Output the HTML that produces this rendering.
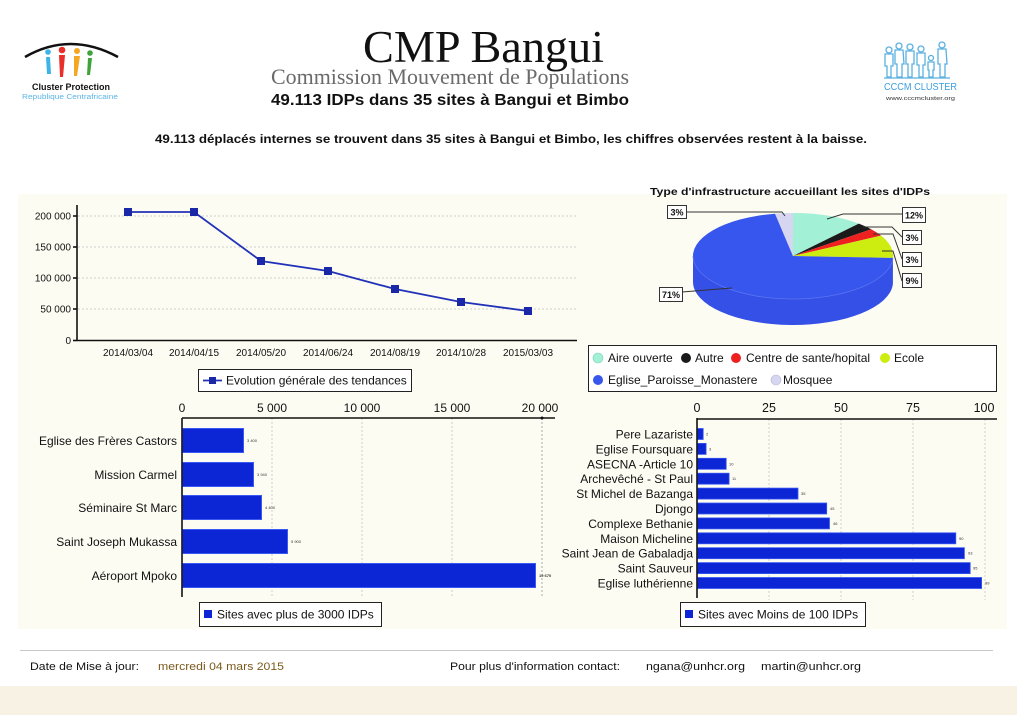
<!DOCTYPE html>
<html>
<head>
<meta charset="utf-8">
<style>
html,body{margin:0;padding:0;background:#fff;}
body{width:1024px;height:724px;overflow:hidden;}
svg{display:block;}
text{font-family:"Liberation Sans",Arial,sans-serif;}
.serif{font-family:"Liberation Serif","Times New Roman",serif;}
</style>
</head>
<body>
<svg width="1024" height="724" viewBox="0 0 1024 724" xmlns="http://www.w3.org/2000/svg">
  <rect width="1024" height="724" fill="#ffffff"/>

  <!-- ===== Header ===== -->
  <!-- left logo -->
  <path d="M25,57 Q70,31 118,57" fill="none" stroke="#111" stroke-width="2.6"/>
  <g>
    <circle cx="48" cy="52" r="2.8" fill="#3cb4e6"/>
    <path d="M46,57 L50,57 L51,74 L47,74 Z" fill="#3cb4e6"/>
    <circle cx="62" cy="50" r="3.3" fill="#e8302a"/>
    <path d="M59,55 L65,55 L63,77 L60,77 Z" fill="#e8302a"/>
    <circle cx="77" cy="51" r="3" fill="#f5a623"/>
    <path d="M74,56 L80,56 L77,76 L74,76 Z" fill="#f5a623"/>
    <circle cx="90" cy="53" r="2.8" fill="#3fa33c"/>
    <path d="M88,58 L92,58 L90,75 L87,75 Z" fill="#3fa33c"/>
  </g>
  <text x="32" y="90" font-size="9.5" font-weight="bold" fill="#111" textLength="78" lengthAdjust="spacingAndGlyphs">Cluster Protection</text>
  <text x="22" y="99" font-size="7" fill="#5ab4e8" textLength="96" lengthAdjust="spacingAndGlyphs">Republique Centrafricaine</text>

  <!-- right logo -->
  <g fill="none" stroke="#5ab0e0" stroke-width="1.3">
    <circle cx="889" cy="50" r="3"/>
    <path d="M885,54 L893,54 L893,66 L891,66 L891,77 L887,77 L887,66 L885,66 Z"/>
    <circle cx="899" cy="46" r="3"/>
    <path d="M895,50 L903,50 L904,64 L902,64 L902,77 L897,77 L897,64 L895,64 Z"/>
    <circle cx="910" cy="47" r="3"/>
    <path d="M906,51 L914,51 L914,64 L912,64 L912,77 L908,77 L908,64 L906,64 Z"/>
    <circle cx="921" cy="49" r="3"/>
    <path d="M917,53 L925,53 L925,65 L923,65 L923,77 L919,77 L919,65 L917,65 Z"/>
    <circle cx="931" cy="58" r="2.5"/>
    <path d="M928,62 L934,62 L934,70 L933,70 L933,77 L929,77 L929,70 L928,70 Z"/>
    <circle cx="942" cy="45" r="3"/>
    <path d="M938,49 L946,49 L947,64 L945,64 L945,77 L940,77 L940,64 L938,64 Z"/>
    <path d="M884,78 L950,78"/>
  </g>
  <text x="884" y="90" font-size="10" fill="#3a9ee0" textLength="73" lengthAdjust="spacingAndGlyphs">CCCM CLUSTER</text>
  <text x="886" y="100" font-size="5.5" fill="#333" textLength="69" lengthAdjust="spacingAndGlyphs">www.cccmcluster.org</text>

  <!-- titles -->
  <text class="serif" x="363" y="62" font-size="45" fill="#111" textLength="241" lengthAdjust="spacingAndGlyphs">CMP Bangui</text>
  <text class="serif" x="271" y="84" font-size="22" fill="#6a6a6a" textLength="358" lengthAdjust="spacingAndGlyphs">Commission Mouvement de Populations</text>
  <text x="271" y="105" font-size="16" font-weight="bold" fill="#111" textLength="358" lengthAdjust="spacingAndGlyphs">49.113 IDPs dans 35 sites à Bangui et Bimbo</text>
  <text x="155" y="143" font-size="11.5" font-weight="bold" fill="#111" textLength="712" lengthAdjust="spacingAndGlyphs">49.113 déplacés internes se trouvent dans 35 sites à Bangui et Bimbo, les chiffres  observées restent à la baisse.</text>

  <!-- cream panel -->
  <rect x="18" y="194" width="989" height="435" fill="#fdfcf3"/>

  <!-- ===== Line chart ===== -->
  <g stroke="#cfcfcf" stroke-width="1" stroke-dasharray="2,2">
    <line x1="78" y1="216" x2="576" y2="216"/>
    <line x1="78" y1="247" x2="576" y2="247"/>
    <line x1="78" y1="278" x2="576" y2="278"/>
    <line x1="78" y1="309" x2="576" y2="309"/>
  </g>
  <g stroke="#111" stroke-width="1.6">
    <line x1="77" y1="205" x2="77" y2="341"/>
    <line x1="77" y1="340.5" x2="577" y2="340.5"/>
    <line x1="73" y1="216" x2="77" y2="216"/>
    <line x1="73" y1="247" x2="77" y2="247"/>
    <line x1="73" y1="278" x2="77" y2="278"/>
    <line x1="73" y1="309" x2="77" y2="309"/>
    <line x1="73" y1="340.5" x2="77" y2="340.5"/>
  </g>
  <g font-size="10" fill="#111" text-anchor="end">
    <text x="71" y="219.5">200 000</text>
    <text x="71" y="250.5">150 000</text>
    <text x="71" y="281.5">100 000</text>
    <text x="71" y="312.5">50 000</text>
    <text x="71" y="344">0</text>
  </g>
  <g font-size="10" fill="#111" text-anchor="middle">
    <text x="128" y="356">2014/03/04</text>
    <text x="194" y="356">2014/04/15</text>
    <text x="261" y="356">2014/05/20</text>
    <text x="328" y="356">2014/06/24</text>
    <text x="395" y="356">2014/08/19</text>
    <text x="461" y="356">2014/10/28</text>
    <text x="528" y="356">2015/03/03</text>
  </g>
  <polyline points="128,212 194,212 261,261 328,271 395,289 461,302 528,311" fill="none" stroke="#2232b8" stroke-width="1.8"/>
  <g fill="#1a28a8">
    <rect x="124" y="208" width="8" height="8"/>
    <rect x="190" y="208" width="8" height="8"/>
    <rect x="257" y="257" width="8" height="8"/>
    <rect x="324" y="267" width="8" height="8"/>
    <rect x="391" y="285" width="8" height="8"/>
    <rect x="457" y="298" width="8" height="8"/>
    <rect x="524" y="307" width="8" height="8"/>
  </g>
  <rect x="198.5" y="369.5" width="213" height="22" fill="#fff" stroke="#222" stroke-width="1"/>
  <line x1="203" y1="380.5" x2="222" y2="380.5" stroke="#2232b8" stroke-width="1.8"/>
  <rect x="209" y="377" width="7" height="7" fill="#1a28a8"/>
  <text x="226" y="384.5" font-size="12" fill="#111">Evolution générale des tendances</text>

  <!-- ===== Pie chart ===== -->
  <text x="790" y="195" font-size="10.5" font-weight="bold" fill="#111" text-anchor="middle" textLength="280" lengthAdjust="spacingAndGlyphs">Type d'infrastructure accueillant les sites d'IDPs</text>
  <!-- sides -->
  <path d="M893,256 A100,43 0 0 1 892.9,257.9 L892.9,283.9 A100,43 0 0 0 893,282 Z" fill="#b8d000"/>
  <path d="M892.9,257.9 A100,43 0 0 1 693,256 L693,282 A100,43 0 0 0 892.9,283.9 Z" fill="#3450e6"/>
  <!-- tops -->
  <path d="M793,256 L793,213 A100,43 0 0 1 858.8,223.6 Z" fill="#a2f0d6"/>
  <path d="M793,256 L858.8,223.6 A100,43 0 0 1 871.2,229.2 Z" fill="#1a1a1a"/>
  <path d="M793,256 L871.2,229.2 A100,43 0 0 1 881.1,235.6 Z" fill="#ee2020"/>
  <path d="M793,256 L881.1,235.6 A100,43 0 0 1 892.9,257.9 Z" fill="#cdec10"/>
  <path d="M793,256 L892.9,257.9 A100,43 0 1 1 775.1,213.7 Z" fill="#3756ee"/>
  <path d="M793,256 L775.1,213.7 A100,43 0 0 1 793,213 Z" fill="#d6d6f0"/>
  <path d="M892.9,257.9 A100,43 0 0 1 693,256" fill="none" stroke="#5a74f0" stroke-width="0.8"/>
  <!-- leaders -->
  <g fill="none" stroke="#333" stroke-width="1">
    <polyline points="686,212 782,212 785,216"/>
    <polyline points="827,219 843,214 902,214"/>
    <polyline points="863,227 892,227 902,237"/>
    <polyline points="873,234 893,234 902,259"/>
    <polyline points="882,251 893,251 902,281"/>
    <polyline points="682,292 732,288"/>
  </g>
  <g fill="#fff" stroke="#333" stroke-width="1">
    <rect x="667.5" y="205.5" width="19" height="13"/>
    <rect x="902.5" y="207.5" width="23" height="15"/>
    <rect x="902.5" y="230.5" width="19" height="14"/>
    <rect x="902.5" y="252.5" width="19" height="14"/>
    <rect x="902.5" y="273.5" width="19" height="14"/>
    <rect x="659.5" y="287.5" width="23" height="14"/>
  </g>
  <g font-size="9" font-weight="bold" fill="#111" text-anchor="middle">
    <text x="677" y="215.5">3%</text>
    <text x="914" y="218.5">12%</text>
    <text x="912" y="241">3%</text>
    <text x="912" y="263">3%</text>
    <text x="912" y="284">9%</text>
    <text x="671" y="298">71%</text>
  </g>
  <!-- pie legend -->
  <rect x="588.5" y="345.5" width="408" height="46" fill="#fff" stroke="#222" stroke-width="1"/>
  <circle cx="598" cy="358" r="5" fill="#a2f0d6" stroke="#7fcfb5" stroke-width="0.6"/>
  <text x="608" y="362" font-size="12" fill="#111">Aire ouverte</text>
  <circle cx="686" cy="358" r="5" fill="#1a1a1a"/>
  <text x="695" y="362" font-size="12" fill="#111">Autre</text>
  <circle cx="736" cy="358" r="5" fill="#ee2020"/>
  <text x="746" y="362" font-size="12" fill="#111">Centre de sante/hopital</text>
  <circle cx="885" cy="358" r="5" fill="#cdec10"/>
  <text x="894" y="362" font-size="12" fill="#111">Ecole</text>
  <circle cx="598" cy="380" r="5" fill="#3756ee"/>
  <text x="608" y="384" font-size="12" fill="#111">Eglise_Paroisse_Monastere</text>
  <circle cx="776" cy="380" r="5" fill="#d6d6f0" stroke="#b8b8d8" stroke-width="0.6"/>
  <text x="783" y="384" font-size="12" fill="#111">Mosquee</text>

  <!-- ===== Left bar chart ===== -->
  <g stroke="#cfcfcf" stroke-width="1" stroke-dasharray="2,2">
    <line x1="272" y1="418" x2="272" y2="597"/>
    <line x1="362" y1="418" x2="362" y2="597"/>
    <line x1="452" y1="418" x2="452" y2="597"/>
    <line x1="542" y1="418" x2="542" y2="597" stroke="#aaa"/>
  </g>
  <g font-size="12" fill="#111" text-anchor="middle">
    <text x="182" y="412">0</text>
    <text x="272" y="412">5 000</text>
    <text x="362" y="412">10 000</text>
    <text x="452" y="412">15 000</text>
    <text x="540" y="412">20 000</text>
  </g>
  <g fill="#0c26d6" stroke="#3a58f2" stroke-width="1">
    <rect x="182.5" y="428.5" width="61" height="24"/>
    <rect x="182.5" y="462.5" width="71" height="24"/>
    <rect x="182.5" y="495.5" width="79" height="24"/>
    <rect x="182.5" y="529.5" width="105" height="24"/>
    <rect x="182.5" y="563.5" width="353" height="24"/>
  </g>
  <g stroke="#111" stroke-width="1.6">
    <line x1="182" y1="418" x2="182" y2="597"/>
    <line x1="182" y1="418" x2="555" y2="418"/>
  </g>
  <circle cx="542" cy="418" r="1.5" fill="#111"/>
  <g font-size="12" fill="#111" text-anchor="end">
    <text x="177" y="445">Eglise des Frères Castors</text>
    <text x="177" y="479">Mission Carmel</text>
    <text x="177" y="512">Séminaire St Marc</text>
    <text x="177" y="546">Saint Joseph Mukassa</text>
    <text x="177" y="580">Aéroport Mpoko</text>
  </g>
  <g font-size="4" fill="#333">
    <text x="247" y="442">3 400</text>
    <text x="257" y="476">3 940</text>
    <text x="265" y="509">4 400</text>
    <text x="291" y="543">5 900</text>
    <text x="539" y="577" font-weight="bold">19 670</text>
  </g>
  <rect x="199.5" y="602.5" width="182" height="24" fill="#fff" stroke="#222" stroke-width="1"/>
  <rect x="204" y="610" width="8" height="8" fill="#0c26d6"/>
  <text x="217" y="618.5" font-size="12" fill="#111">Sites avec plus de 3000 IDPs</text>

  <!-- ===== Right bar chart ===== -->
  <g stroke="#cfcfcf" stroke-width="1" stroke-dasharray="2,2">
    <line x1="769" y1="419" x2="769" y2="600"/>
    <line x1="841" y1="419" x2="841" y2="600"/>
    <line x1="913" y1="419" x2="913" y2="600"/>
    <line x1="985" y1="419" x2="985" y2="600"/>
  </g>
  <g font-size="12.5" fill="#111" text-anchor="middle">
    <text x="697" y="412">0</text>
    <text x="769" y="412">25</text>
    <text x="841" y="412">50</text>
    <text x="913" y="412">75</text>
    <text x="984" y="412">100</text>
  </g>
  <g fill="#0c26d6" stroke="#3a58f2" stroke-width="0.8">
    <rect x="697.5" y="428.5" width="5.7" height="11"/>
    <rect x="697.5" y="443.4" width="8.6" height="11"/>
    <rect x="697.5" y="458.3" width="28.7" height="11"/>
    <rect x="697.5" y="473.2" width="31.6" height="11"/>
    <rect x="697.5" y="488.1" width="100.5" height="11"/>
    <rect x="697.5" y="503" width="129.2" height="11"/>
    <rect x="697.5" y="517.9" width="132" height="11"/>
    <rect x="697.5" y="532.8" width="258.3" height="11"/>
    <rect x="697.5" y="547.7" width="266.9" height="11"/>
    <rect x="697.5" y="562.6" width="272.7" height="11"/>
    <rect x="697.5" y="577.5" width="284.1" height="11"/>
  </g>
  <g stroke="#111" stroke-width="1.6">
    <line x1="697" y1="418" x2="697" y2="598"/>
    <line x1="697" y1="419" x2="997" y2="419"/>
  </g>
  <g font-size="12" fill="#111" text-anchor="end">
    <text x="693" y="438.5">Pere Lazariste</text>
    <text x="693" y="453.4">Eglise Foursquare</text>
    <text x="693" y="468.3">ASECNA -Article 10</text>
    <text x="693" y="483.2">Archevêché - St Paul</text>
    <text x="693" y="498.1">St Michel de Bazanga</text>
    <text x="693" y="513">Djongo</text>
    <text x="693" y="527.9">Complexe Bethanie</text>
    <text x="693" y="542.8">Maison Micheline</text>
    <text x="693" y="557.7">Saint Jean de Gabaladja</text>
    <text x="693" y="572.6">Saint Sauveur</text>
    <text x="693" y="587.5">Eglise luthérienne</text>
  </g>
  <g font-size="4" fill="#333">
    <text x="706" y="435.5">2</text>
    <text x="709" y="450.4">3</text>
    <text x="729" y="465.3">10</text>
    <text x="732" y="480.2">11</text>
    <text x="801" y="495.1">35</text>
    <text x="830" y="510">45</text>
    <text x="833" y="524.9">46</text>
    <text x="959" y="539.8">90</text>
    <text x="968" y="554.7">93</text>
    <text x="973" y="569.6">95</text>
    <text x="985" y="584.5">99</text>
  </g>
  <rect x="680.5" y="602.5" width="185" height="24" fill="#fff" stroke="#222" stroke-width="1"/>
  <rect x="685" y="610" width="8" height="8" fill="#0c26d6"/>
  <text x="698" y="618.5" font-size="12" fill="#111">Sites avec Moins de 100 IDPs</text>

  <!-- ===== Footer ===== -->
  <line x1="20" y1="650.5" x2="993" y2="650.5" stroke="#c8c8c8" stroke-width="1"/>
  <g font-size="11" fill="#111">
    <text x="30" y="670" textLength="109" lengthAdjust="spacingAndGlyphs">Date de Mise à jour:</text>
    <text x="158" y="670" fill="#7a5a1a" textLength="126" lengthAdjust="spacingAndGlyphs">mercredi 04 mars 2015</text>
    <text x="450" y="670" textLength="170" lengthAdjust="spacingAndGlyphs">Pour plus d'information contact:</text>
    <text x="646" y="670" textLength="99" lengthAdjust="spacingAndGlyphs">ngana@unhcr.org</text>
    <text x="761" y="670" textLength="100" lengthAdjust="spacingAndGlyphs">martin@unhcr.org</text>
  </g>
  <rect x="0" y="686" width="1017" height="29" fill="#f8f2e4"/>
</svg>
</body>
</html>
